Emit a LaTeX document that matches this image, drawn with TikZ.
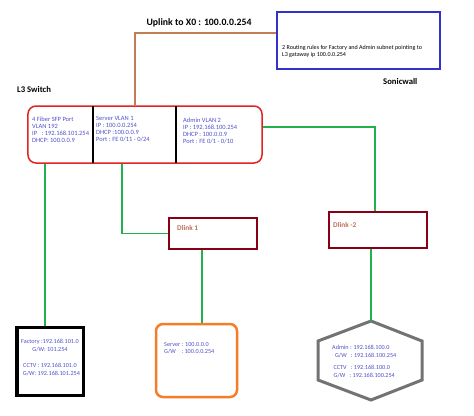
\documentclass[tikz,border=0pt]{standalone}
\usepackage{fontspec}
\setmainfont{Carlito}
\definecolor{txtblue}{RGB}{80,80,200}
\definecolor{swred}{RGB}{225,35,35}
\definecolor{sonblue}{RGB}{50,50,200}
\definecolor{upbrown}{RGB}{195,125,85}
\definecolor{lgreen}{RGB}{34,177,76}
\definecolor{dkred}{RGB}{136,0,21}
\definecolor{dltxt}{RGB}{185,110,90}
\definecolor{orng}{RGB}{245,125,40}
\definecolor{hexgray}{RGB}{115,115,115}
\tikzset{
  smalltxt/.style={font=\fontsize{6.5}{7}\selectfont, text=txtblue, align=left, inner sep=0pt, anchor=north west},
  boldlbl/.style={font=\fontsize{8.7}{10}\bfseries\selectfont, inner sep=0pt},
  dlinkbox/.style={draw=dkred, line width=2.5bp, minimum width=#1, inner sep=0pt},
  dlinklbl/.style={font=\fontsize{7.3}{8}\bfseries\selectfont, text=dltxt, inner sep=0pt, anchor=west},
  gline/.style={draw=lgreen, line width=1.2bp},
}
\begin{document}
\begin{tikzpicture}[x=1bp,y=-1bp]
\useasboundingbox (0,0) rectangle (474,415);
% Sonicwall
\node[draw=sonblue, line width=1.5bp, minimum width=163bp, minimum height=57bp, inner sep=0pt] (son) at (358.5,40.5) {};
\node[font=\fontsize{6.1}{7}\selectfont, align=left, inner sep=0pt, anchor=north west] (sontxt) at (282,45) {2 Routing rules for Factory and Admin subnet pointing to\\L3 gataway ip 100.0.0.254};
\node[boldlbl, anchor=west] (sonlbl) at (383,81) {Sonicwall};
\node[boldlbl, font=\fontsize{9.8}{11}\bfseries\selectfont] (uplbl) at (199,23) {Uplink to X0 : 100.0.0.254};
\node[boldlbl, anchor=west] (swlbl) at (17,89) {L3 Switch};
% switch
\node[draw=swred, line width=1.5bp, rounded corners=8bp, minimum width=234bp, minimum height=57bp, inner sep=0pt] (sw) at (145,134.5) {};
\draw[line width=1.2bp] (93,106) -- (93,163);
\draw[line width=1.2bp] (176,106) -- (176,163);
\node[smalltxt] (c1) at (32,117) {4 Fiber SFP Port\\VLAN 192\\IP~~~: 192.168.101.254\\DHCP: 100.0.0.9};
\node[smalltxt] (c2) at (96,116) {Server VLAN 1\\IP : 100.0.0.254\\DHCP :100.0.0.9\\Port : FE 0/11 - 0/24};
\node[smalltxt] (c3) at (183,118) {Admin VLAN 2\\IP : 192.168.100.254\\DHCP : 100.0.0.9\\Port : FE 0/1 - 0/10};
% uplink
\coordinate (upc) at (135,33);
\draw[upbrown, line width=1.5bp] (son.west |- upc) -- (upc) -- (upc |- sw.north);
% dlinks
\node[dlinkbox=88bp, minimum height=31bp] (dl1) at (213,233.5) {};
\node[dlinklbl] (dl1t) at (177,228) {Dlink 1};
\node[dlinkbox=98bp, minimum height=36bp] (dl2) at (378,230) {};
\node[dlinklbl] (dl2t) at (333,225) {Dlink -2};
% end devices
\node[draw=black, line width=3bp, minimum width=66bp, minimum height=68bp, inner sep=0pt] (fac) at (50,361) {};
\node[font=\fontsize{6.2}{8}\selectfont, text=txtblue, align=center, inner sep=0pt, anchor=north] (factxt) at (50,339) {Factory :192.168.101.0\\G/W: 101.254\\[8bp]CCTV : 192.168.101.0\\~~G/W: 192.168.101.254};
\node[draw=orng, line width=2.5bp, rounded corners=7bp, minimum width=81bp, minimum height=73bp, inner sep=0pt] (srv) at (196.5,360.5) {};
\node[smalltxt, font=\fontsize{6.2}{7}\selectfont] (srvtxt) at (164,342) {Server : 100.0.0.0\\G/W~~~~: 100.0.0.254};
\coordinate (hextop) at (371,321);
\draw[hexgray, line width=3bp, line join=miter] (hextop) -- (422,341) -- (422,380) -- (371,400) -- (318,380) -- (318,341) -- cycle;
\node[smalltxt, font=\fontsize{6.2}{8}\selectfont] (hextxt) at (332,345) {Admin : 192.168.100.0\\~~G/W~~~: 192.168.100.254\\[4bp]~CCTV~~~: 192.168.100.0\\~G/W~~~: 192.168.100.254};
% green links
\coordinate (g1) at (45,200);
\draw[gline] (g1 |- sw.south) -- (g1 |- fac.north);
\coordinate (g2) at (122,233.5);
\draw[gline] (g2 |- sw.south) -- (g2) -- (dl1.west);
\coordinate (g3) at (202,280);
\draw[gline] (g3 |- dl1.south) -- (g3 |- srv.north);
\coordinate (g4) at (375,127);
\draw[gline] (sw.east |- g4) -- (g4) -- (g4 |- dl2.north);
\draw[gline] (hextop |- dl2.south) -- (hextop);
\end{tikzpicture}
\end{document}
